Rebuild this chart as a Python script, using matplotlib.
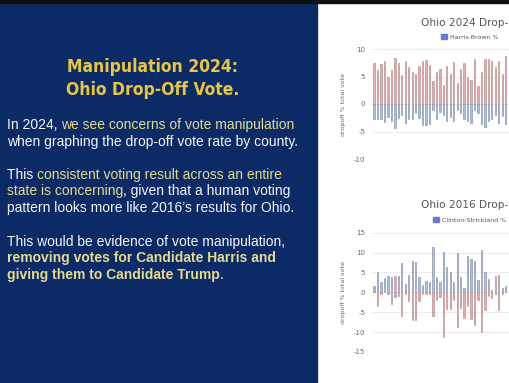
import matplotlib
matplotlib.use("Agg")
import numpy as np
from matplotlib import pyplot as plt
from matplotlib import font_manager
from matplotlib.patches import Rectangle, Patch

W, H = 510, 383

# --- chart data (per county, left to right, only the visible part) ---
trump_2024 = [7.5, 6.2, 7.2, 7.9, 5.0, 6.2, 8.3, 7.4, 5.3, 7.8, 6.8, 5.9, 5.4, 7.0,
              7.8, 8.0, 7.1, 4.1, 5.9, 6.4, 3.4, 7.0, 5.4, 7.7, 3.9, 6.3, 7.5, 5.0,
              4.3, 8.2, 3.2, 5.8, 8.1, 8.1, 7.9, 6.7, 7.8, 5.4, 8.7]
harris_2024 = [-2.8, -2.8, -2.8, -3.3, -2.3, -3.1, -4.3, -2.5, -2.0, -3.4, -2.8, -2.8,
               -1.7, -2.5, -3.8, -3.8, -3.7, -1.1, -2.8, -1.4, -2.0, -3.1, -2.3, -3.1,
               -1.1, -1.7, -2.7, -3.1, -3.4, -1.1, -1.7, -3.6, -4.2, -3.1, -2.8, -2.0,
               -3.4, -2.2, -3.7]

clinton_2016 = [1.5, 5.0, 2.6, 3.5, 4.2, 3.9, -1.2, 4.2, 7.5, 2.2, 4.3, 7.9, 7.7, 3.8,
                1.8, 2.8, 2.7, 11.5, 3.8, 2.5, 10.2, 6.3, 5.0, 2.6, 10.0, 3.8, 1.0, 9.2,
                8.5, 7.8, 3.1, 10.6, 5.0, 3.3, 0.5, -0.5, 4.3, 1.2, 1.5]
trump_2016 = [0.0, -3.5, -0.3, 0.0, -0.3, -3.0, 4.2, -0.8, -6.0, -0.5, -2.3, -7.0, -7.0,
              -2.2, -0.5, -0.5, -0.5, -6.0, -2.0, -1.2, -11.3, -4.3, -4.3, -2.0, -8.8,
              -4.0, -6.5, -3.5, -6.8, -8.2, -2.0, -10.0, -4.5, -1.0, -1.5, 4.2, -4.5,
              -0.3, 0.0]

N_COUNTIES = 88

NAVY = "#0c2b66"
GOLD = "#e8c640"
PALE = "#e6da8e"
WHITE = "#f4f6fa"
RED_FILL, RED_EDGE = "#eaa8a8", "#b88e8e"
BLUE_FILL, BLUE_EDGE = "#a9bfe0", "#8492ad"
GRAY_TXT = "#666666"


def fx(px):
    return px / W


def fy(py):
    return 1 - py / H


def condensed_available():
    fp = font_manager.FontProperties(family="DejaVu Sans", stretch="condensed", weight="bold")
    return "Condensed" in font_manager.findfont(fp, fallback_to_default=True)


def rich_line(fig, renderer, x, y, parts, size):
    """Draw a line made of differently coloured runs, left to right."""
    for txt, color, weight in parts:
        t = fig.text(fx(x), fy(y), txt, color=color, fontsize=size, fontweight=weight,
                     family=["Liberation Sans", "DejaVu Sans"], va="center", ha="left")
        x += t.get_window_extent(renderer).width


def bar_chart(fig, top_px, bottom_px, ylim, ticks, up, down, up_style, down_style):
    left = 372
    pitch = 3.47
    width = N_COUNTIES * pitch
    ax = fig.add_axes([fx(left), fy(bottom_px), width / W, (bottom_px - top_px) / H])
    x = np.arange(len(up))
    ax.bar(x, up, width=0.38, color=up_style[0], edgecolor=up_style[1], linewidth=0.45)
    ax.bar(x, down, width=0.38, color=down_style[0], edgecolor=down_style[1], linewidth=0.45)
    ax.set_xlim(-0.6, N_COUNTIES - 0.4)
    ax.set_ylim(*ylim)
    ax.set_yticks(ticks)
    ax.set_yticklabels([str(t) for t in ticks])
    ax.tick_params(axis="y", length=0, labelsize=5, labelcolor=GRAY_TXT, pad=5)
    ax.set_xticks([])
    for s in ax.spines.values():
        s.set_visible(False)
    ax.grid(axis="y", color="#e8e8e8", linewidth=0.6)
    ax.set_axisbelow(True)
    ax.set_facecolor("none")
    return ax


fig = plt.figure(figsize=(W / 100, H / 100), dpi=100)
fig.patch.set_facecolor("white")
fig.add_artist(Rectangle((0, 0), fx(317), 1, transform=fig.transFigure,
                         color=NAVY, zorder=0))
fig.add_artist(Rectangle((0, fy(2.5)), 1, 2.5 / H, transform=fig.transFigure,
                         color="#111111", zorder=5))

renderer = fig.canvas.get_renderer()

# --- left panel ---
if condensed_available():
    title_kw = dict(family="DejaVu Sans", fontstretch="condensed", fontsize=12.5)
else:
    title_kw = dict(family="DejaVu Sans", fontsize=10.5)
fig.text(fx(153), fy(67), "Manipulation 2024:", color=GOLD, fontweight="bold",
         ha="center", va="center", **title_kw)
fig.text(fx(153), fy(90), "Ohio Drop-Off Vote.", color=GOLD, fontweight="bold",
         ha="center", va="center", **title_kw)

fs = 10
lines = [
    (125, [("In 2024, ", WHITE, "normal"),
           ("we see concerns of vote manipulation", PALE, "normal")]),
    (142, [("when graphing the drop-off vote rate by county.", WHITE, "normal")]),
    (175, [("This ", WHITE, "normal"),
           ("consistent voting result across an entire", PALE, "normal")]),
    (191, [("state is concerning", PALE, "normal"),
           (", given that a human voting", WHITE, "normal")]),
    (208, [("pattern looks more like 2016\u2019s results for Ohio.", WHITE, "normal")]),
    (242, [("This would be evidence of vote manipulation,", WHITE, "normal")]),
    (258, [("removing votes for Candidate Harris and", PALE, "bold")]),
    (275, [("giving them to Candidate Trump", PALE, "bold"), (".", WHITE, "normal")]),
]
for y, parts in lines:
    rich_line(fig, renderer, 7, y, parts, fs)

# --- right panel: 2024 chart ---
ax1 = bar_chart(fig, 49, 159, (-10, 10), [10, 5, 0, -5, -10],
                trump_2024, harris_2024, (RED_FILL, RED_EDGE), (BLUE_FILL, BLUE_EDGE))
fig.text(fx(421), fy(23), "Ohio 2024 Drop-", color="#555555",
         fontsize=7.6, ha="left", va="center")
fig.text(fx(343), fy(104), "dropoff % total vote", color=GRAY_TXT, fontsize=4.5,
         rotation=90, ha="center", va="center")
ax1.legend(handles=[Patch(color="#6c79c9", label="Harris-Brown %")],
           loc="center left", bbox_to_anchor=(fx(438), fy(37)),
           bbox_transform=fig.transFigure, frameon=False, fontsize=4.5,
           handlelength=0.9, handleheight=0.9, handletextpad=0.6,
           labelcolor="#555555", borderpad=0)

# --- right panel: 2016 chart ---
ax2 = bar_chart(fig, 232.7, 352, (-15, 15), [15, 10, 5, 0, -5, -10, -15],
                clinton_2016, trump_2016, (BLUE_FILL, BLUE_EDGE), (RED_FILL, RED_EDGE))
fig.text(fx(421), fy(205), "Ohio 2016 Drop-", color="#555555",
         fontsize=7.6, ha="left", va="center")
fig.text(fx(343), fy(293), "dropoff % total vote", color=GRAY_TXT, fontsize=4.5,
         rotation=90, ha="center", va="center")
ax2.legend(handles=[Patch(color="#6c79c9", label="Clinton-Strickland %")],
           loc="center left", bbox_to_anchor=(fx(430), fy(220)),
           bbox_transform=fig.transFigure, frameon=False, fontsize=4.5,
           handlelength=0.9, handleheight=0.9, handletextpad=0.6,
           labelcolor="#555555", borderpad=0)

fig.savefig("out.png", dpi=100)
